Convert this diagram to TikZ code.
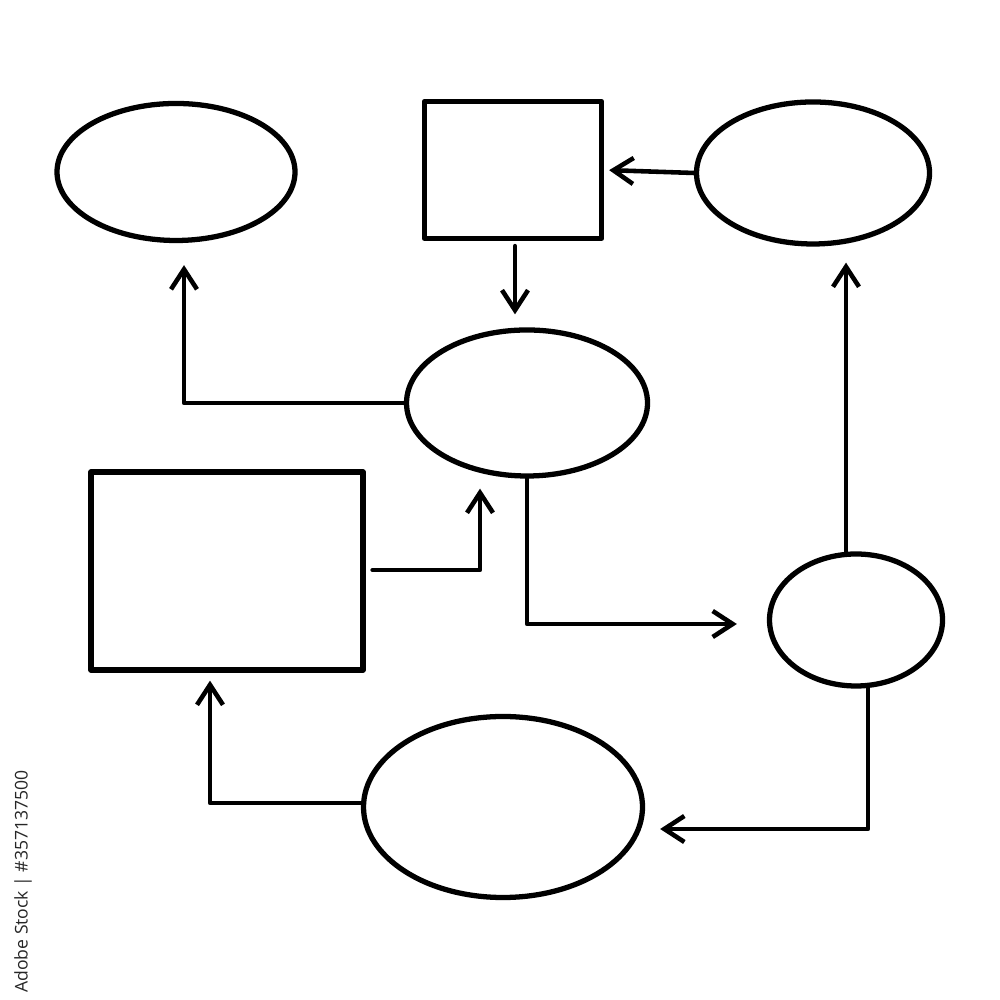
\documentclass[tikz,border=0pt]{standalone}
\usepackage{fontspec}
\newfontfamily\wmfont{Open Sans}
\usetikzlibrary{shapes.geometric,arrows.meta}

\begin{document}
\begin{tikzpicture}[line cap=round, line join=round,
    >={Straight Barb[length=2mm,width=2.6mm]},
    oval/.style={draw, ellipse, line width=1.5pt, inner sep=0pt},
    box/.style={draw, rectangle, line width=1.5pt, inner sep=0pt},
    link/.style={line width=1.3pt}]
         \useasboundingbox (0,0) rectangle (10,10);
         \node [oval, minimum width=2.38cm, minimum height=1.37cm] (TL) at (1.76, 8.28) {};
         \node [box, minimum width=1.77cm, minimum height=1.37cm] (TM) at (5.13, 8.30) {};
         \node [oval, minimum width=2.33cm, minimum height=1.42cm] (TR) at (8.13, 8.27) {};
         \node [oval, minimum width=2.41cm, minimum height=1.46cm] (MM) at (5.27, 5.97) {};
         \node [box, minimum width=2.72cm, minimum height=1.98cm] (LB) at (2.27, 4.29) {};
         \node [oval, minimum width=1.73cm, minimum height=1.32cm] (RM) at (8.56, 3.80) {};
         \node [oval, minimum width=2.79cm, minimum height=1.81cm] (BM) at (5.03, 1.93) {};
         \node [rotate=90, text=black!85, inner sep=0pt] (WM) at (0.23, 1.185) {\wmfont\fontsize{5}{6}\selectfont Adobe Stock | \#357137500};
         \draw [link, ->, shorten >=0.5mm] (TR.west) -- (TM.east);
         \draw [link, ->, shorten <=0.5mm, shorten >=1.3mm] ([xshift=0.02cm]TM.south) -- ([xshift=0.02cm]TM.south |- MM.north);
         \draw [link, ->, shorten >=2.2mm] (MM.west) -| ([xshift=0.08cm]TL.south);
         \draw [link, ->, shorten <=0.7mm, shorten >=1mm] ([yshift=0.01cm]LB.east) -| ([xshift=-0.47cm]MM.south);
         \draw [link, ->, shorten >=3mm] (MM.south) |- ([yshift=-0.04cm]RM.west);
         \draw [link, ->, shorten >=1.6mm] ([xshift=-0.1cm]RM.north) -- ([xshift=-0.1cm]RM.north |- TR.south);
         \draw [link, ->, shorten >=1.5mm] ([xshift=0.12cm]RM.south) |- ([yshift=-0.22cm]BM.east);
         \draw [link, ->, shorten >=0.8mm] ([yshift=0.04cm]BM.west) -| ([xshift=-0.17cm]LB.south);
 \end{tikzpicture}
\end{document}
